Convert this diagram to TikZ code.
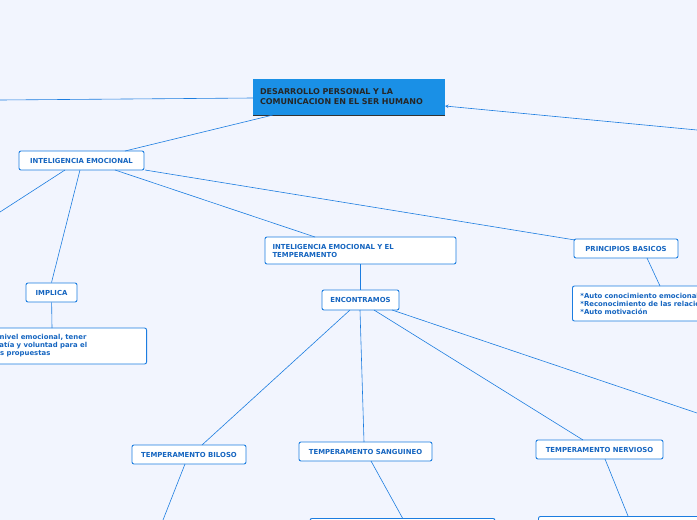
\documentclass[tikz,border=0pt]{standalone}
\usepackage{fontspec}
\setmainfont{DejaVu Sans}
\definecolor{bg}{HTML}{F2F5FE}
\definecolor{ln}{HTML}{1C7DE0}
\definecolor{tx}{HTML}{1565C0}
\definecolor{tb}{HTML}{1A90E6}
\tikzset{
 box/.style={draw=ln,fill=white,rounded corners=2pt,line width=0.9pt,font=\bfseries\fontsize{6.9}{8}\selectfont,text=tx,inner sep=0pt},
 con/.style={draw=ln,line width=0.6pt}
}
\begin{document}
\begin{tikzpicture}[x=1pt,y=-1pt]
\fill[bg] (0,0) rectangle (697,520);
\useasboundingbox (0,0) rectangle (697,520);
\node[fill=tb,minimum width=192pt,minimum height=36pt,inner sep=0pt,text=black!85,font=\bfseries\fontsize{8}{10}\selectfont,align=left,text width=178pt] (t) at (349,97) {DESARROLLO PERSONAL Y LA\\COMUNICACION EN EL SER HUMANO};
\draw[black!80,line width=0.8pt] (253,115) -- (445,115);
\node[box,minimum width=125pt,minimum height=19pt] (ie) at (81.5,160.5) {INTELIGENCIA EMOCIONAL};
\node[box,minimum width=191pt,minimum height=27pt,align=left,text width=176pt] (iet) at (360.5,250.5) {INTELIGENCIA EMOCIONAL Y EL\\TEMPERAMENTO};
\node[box,minimum width=104pt,minimum height=19pt] (pb) at (626,248.5) {PRINCIPIOS BASICOS};
\node[box,minimum width=140pt,minimum height=35pt,align=left,text width=170pt,anchor=west] (pbt) at (572,303.5) {\hspace*{8pt}{*}Auto conocimiento emocional\\\hspace*{8pt}{*}Reconocimiento de las relaciones\\\hspace*{8pt}{*}Auto motivación};
\node[box,minimum width=51pt,minimum height=19pt] (im) at (51.5,292.5) {IMPLICA};
\node[box,minimum width=220pt,minimum height=36pt,align=left,text width=208pt,anchor=east] (imt) at (147,346) {Ser inteligente a nivel emocional, tener\\autocontrol, empatía y voluntad para el\\logro de las metas propuestas};
\node[box,minimum width=77pt,minimum height=20pt] (enc) at (360.5,300) {ENCONTRAMOS};
\node[box,minimum width=114pt,minimum height=19pt] (tbi) at (189,454.5) {TEMPERAMENTO BILOSO};
\node[box,minimum width=133pt,minimum height=19pt] (tsa) at (365.5,451.5) {TEMPERAMENTO SANGUINEO};
\node[box,minimum width=127pt,minimum height=19pt] (tne) at (599.5,449.5) {TEMPERAMENTO NERVIOSO};
\node[box,minimum width=185pt,minimum height=20pt,anchor=north] (bs) at (402.5,518) {};
\node[box,minimum width=180pt,minimum height=20pt,anchor=north west] (bn) at (538,516) {};
\coordinate (l0) at (0,100);
\coordinate (r0) at (697,130);
\coordinate (l1) at (0,212);
\coordinate (r1) at (697,413);
\coordinate (b1) at (163,520);
\draw[con] (t.west|-0,98) -- (l0);
\draw[con,-stealth] (r0) -- (445,106);
\draw[con] (273,115) -- (125,151);
\draw[con] (65,170) -- (l1);
\draw[con] (80,170) -- (im.north);
\draw[con] (115,170) -- (315,237);
\draw[con] (145,170) -- (575,240);
\draw[con] (iet) -- (enc);
\draw[con] (647,258) -- (660,286);
\draw[con] (im) -- (52,328);
\draw[con] (350,310) -- (202,445);
\draw[con] (360,310) -- (364,442);
\draw[con] (374,310) -- (583,440);
\draw[con] (392,310) -- (r1);
\draw[con] (185,464) -- (b1);
\draw[con] (371,461) -- (bs.north);
\draw[con] (605,459) -- (628,516);
\end{tikzpicture}
\end{document}
